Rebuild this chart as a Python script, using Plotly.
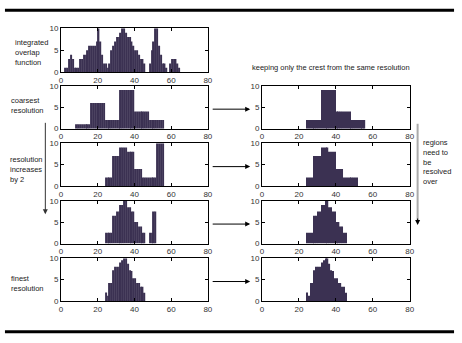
import plotly.graph_objects as go

W, H = 462, 343

# ---------------- data (bar heights per unit bin, starting at given x) ----------------
overlap_start = 2
overlap_vals = [1, 1, 3, 4, 3, 1, 1, 1, 3, 3, 4, 4, 5, 6, 6, 6, 6, 7, 10, 7,
                4, 2, 2, 1, 2, 5, 6, 7, 8, 8, 9, 10, 10, 9, 8, 8, 7, 6, 5, 5,
                4, 3, 3, 2, 0, 0, 2, 5, 7, 10, 10, 6, 4, 2, 2, 1, 0, 2, 3, 3,
                3, 2, 1]

coarse_start = 8
coarse_vals = [1, 1, 1, 1, 1, 1, 1, 1, 6, 6, 6, 6, 6, 6, 6, 6,
               2, 2, 2, 2, 2, 2, 2, 2, 9, 9, 9, 9, 9, 9, 9, 9,
               4, 4, 4, 4, 4, 4, 4, 4, 2, 2, 2, 2, 2, 2, 2, 2]
coarse_crest_start = 24
coarse_crest_vals = [2, 2, 2, 2, 2, 2, 2, 2, 9, 9, 9, 9, 9, 9, 9, 9,
                     4, 4, 4, 4, 4, 4, 4, 4, 2, 2, 2, 2, 2, 2, 2, 2]

half_start = 24
half_vals = [2, 2, 2, 2, 7, 7, 7, 7, 9, 9, 9, 9, 8, 8, 8, 8,
             4, 4, 4, 4, 2, 2, 2, 2, 2, 2, 2, 2, 10, 10, 10, 10]
half_crest_start = 24
half_crest_vals = [2, 2, 2, 2, 7, 7, 7, 7, 9, 9, 9, 9, 8, 8, 8, 8,
                   4, 4, 4, 4, 2, 2, 2, 2, 2, 2, 2, 2]

quarter_start = 24
quarter_vals = [2.5, 2.5, 2.5, 2.5, 6.5, 6.5, 7.5, 7.5, 9, 9, 10, 10,
                8.5, 8.5, 7.5, 7.5, 5, 5, 4, 4, 2.5, 2.5, 0, 0,
                2.5, 2.5, 7.5, 7.5]
quarter_crest_start = 24
quarter_crest_vals = [2.5, 2.5, 2.5, 2.5, 6.5, 6.5, 7.5, 7.5, 9, 9, 10, 10,
                      8.5, 8.5, 7.5, 7.5, 5, 5, 4, 4, 2.5, 2.5]

finest_start = 24
finest_vals = [2, 1.2, 4.2, 4.2, 7.2, 8, 8, 8, 9, 9.5, 10, 10,
               8.7, 7.2, 7, 5.3, 5.3, 4.2, 4.2, 3.3, 3.3, 1.9]

x_ticks = [0, 20, 40, 60, 80]
y_ticks = [0, 5, 10]

row_labels = ["integrated<br>overlap<br>function", "coarsest<br>resolution",
              "resolution<br>increases<br>by 2", "finest<br>resolution"]
crest_title = "keeping only the crest from the same resolution"
side_label = "regions<br>need to<br>be<br>resolved<br>over"

# ---------------- layout geometry (pixels) ----------------
LEFT = (60, 209)
RIGHT = (264, 414)
ROWS = [(25, 70), (84, 128), (143, 187), (202, 246), (261, 305)]

def fx(p):
    return p / W

def fy(p):
    return 1 - p / H

panels = [
    (LEFT, ROWS[0], overlap_start, overlap_vals),
    (LEFT, ROWS[1], coarse_start, coarse_vals),
    (LEFT, ROWS[2], half_start, half_vals),
    (LEFT, ROWS[3], quarter_start, quarter_vals),
    (LEFT, ROWS[4], finest_start, finest_vals),
    (RIGHT, ROWS[1], coarse_crest_start, coarse_crest_vals),
    (RIGHT, ROWS[2], half_crest_start, half_crest_vals),
    (RIGHT, ROWS[3], quarter_crest_start, quarter_crest_vals),
    (RIGHT, ROWS[4], finest_start, finest_vals),
]

FONT = "Liberation Sans, Arial, sans-serif"
BAR = "#3b3152"

fig = go.Figure()
layout = dict(width=W, height=H, margin=dict(l=0, r=0, t=0, b=0),
              paper_bgcolor="white", plot_bgcolor="white", showlegend=False,
              font=dict(family=FONT, size=8, color="#222"))

for i, (col, row, start, vals) in enumerate(panels, start=1):
    xs = [start + j + 0.5 for j in range(len(vals))]
    fig.add_trace(go.Bar(x=xs, y=vals, width=0.75,
                         marker=dict(color=BAR, line=dict(width=0)),
                         xaxis=f"x{i}", yaxis=f"y{i}", hoverinfo="skip"))
    common = dict(ticks="inside", ticklen=3, tickcolor="black", showline=True,
                  linecolor="black", linewidth=1, mirror="ticks", showgrid=False,
                  zeroline=False, fixedrange=True,
                  tickfont=dict(size=8, family=FONT, color="#333"))
    layout[f"xaxis{i}"] = dict(domain=[fx(col[0]), fx(col[1])], range=[0, 80],
                               tickvals=x_ticks, anchor=f"y{i}", **common)
    layout[f"yaxis{i}"] = dict(domain=[fy(row[1]), fy(row[0])], range=[0, 10],
                               tickvals=y_ticks, anchor=f"x{i}", **common)

annotations = []
label_pos = [(11, 50), (7, 104), (6, 170), (7, 287)]
for txt, (px, py) in zip(row_labels, label_pos):
    annotations.append(dict(text=txt, x=fx(px), y=fy(py), xref="paper", yref="paper",
                            xanchor="left", yanchor="middle", align="left",
                            showarrow=False, font=dict(size=7.5, color="#222")))
annotations.append(dict(text=crest_title, x=fx(334), y=fy(65), xref="paper", yref="paper",
                        xanchor="center", yanchor="middle", showarrow=False,
                        font=dict(size=7.5, color="#222")))
annotations.append(dict(text=side_label, x=fx(425), y=fy(162), xref="paper", yref="paper",
                        xanchor="left", yanchor="middle", align="left", showarrow=False,
                        font=dict(size=7.5, color="#222")))

# horizontal arrows between columns
for row in ROWS[1:]:
    yc = (row[0] + row[1]) / 2 + 2
    annotations.append(dict(text="", x=fx(252), y=fy(yc), xref="paper", yref="paper",
                            ax=-39, ay=0, showarrow=True, arrowhead=2, arrowsize=1,
                            arrowwidth=1, arrowcolor="black"))
# left vertical arrow
annotations.append(dict(text="", x=fx(44), y=fy(216), xref="paper", yref="paper",
                        ax=0, ay=-93, showarrow=True, arrowhead=2, arrowsize=1,
                        arrowwidth=1, arrowcolor="#333"))
# right arrowhead
annotations.append(dict(text="", x=fx(422), y=fy(227), xref="paper", yref="paper",
                        ax=0, ay=-8, showarrow=True, arrowhead=2, arrowsize=1,
                        arrowwidth=1, arrowcolor="black"))
layout["annotations"] = annotations

layout["shapes"] = [
    dict(type="rect", xref="paper", yref="paper", x0=fx(3), x1=fx(459), y0=fy(8), y1=fy(5),
         fillcolor="black", line=dict(width=0)),
    dict(type="rect", xref="paper", yref="paper", x0=fx(3), x1=fx(459), y0=fy(338), y1=fy(335),
         fillcolor="black", line=dict(width=0)),
    dict(type="line", xref="paper", yref="paper", x0=fx(422), x1=fx(422), y0=fy(123), y1=fy(222),
         line=dict(color="#aaaaaa", width=2)),
]

fig.update_layout(**layout)
fig.write_html("out.html")
